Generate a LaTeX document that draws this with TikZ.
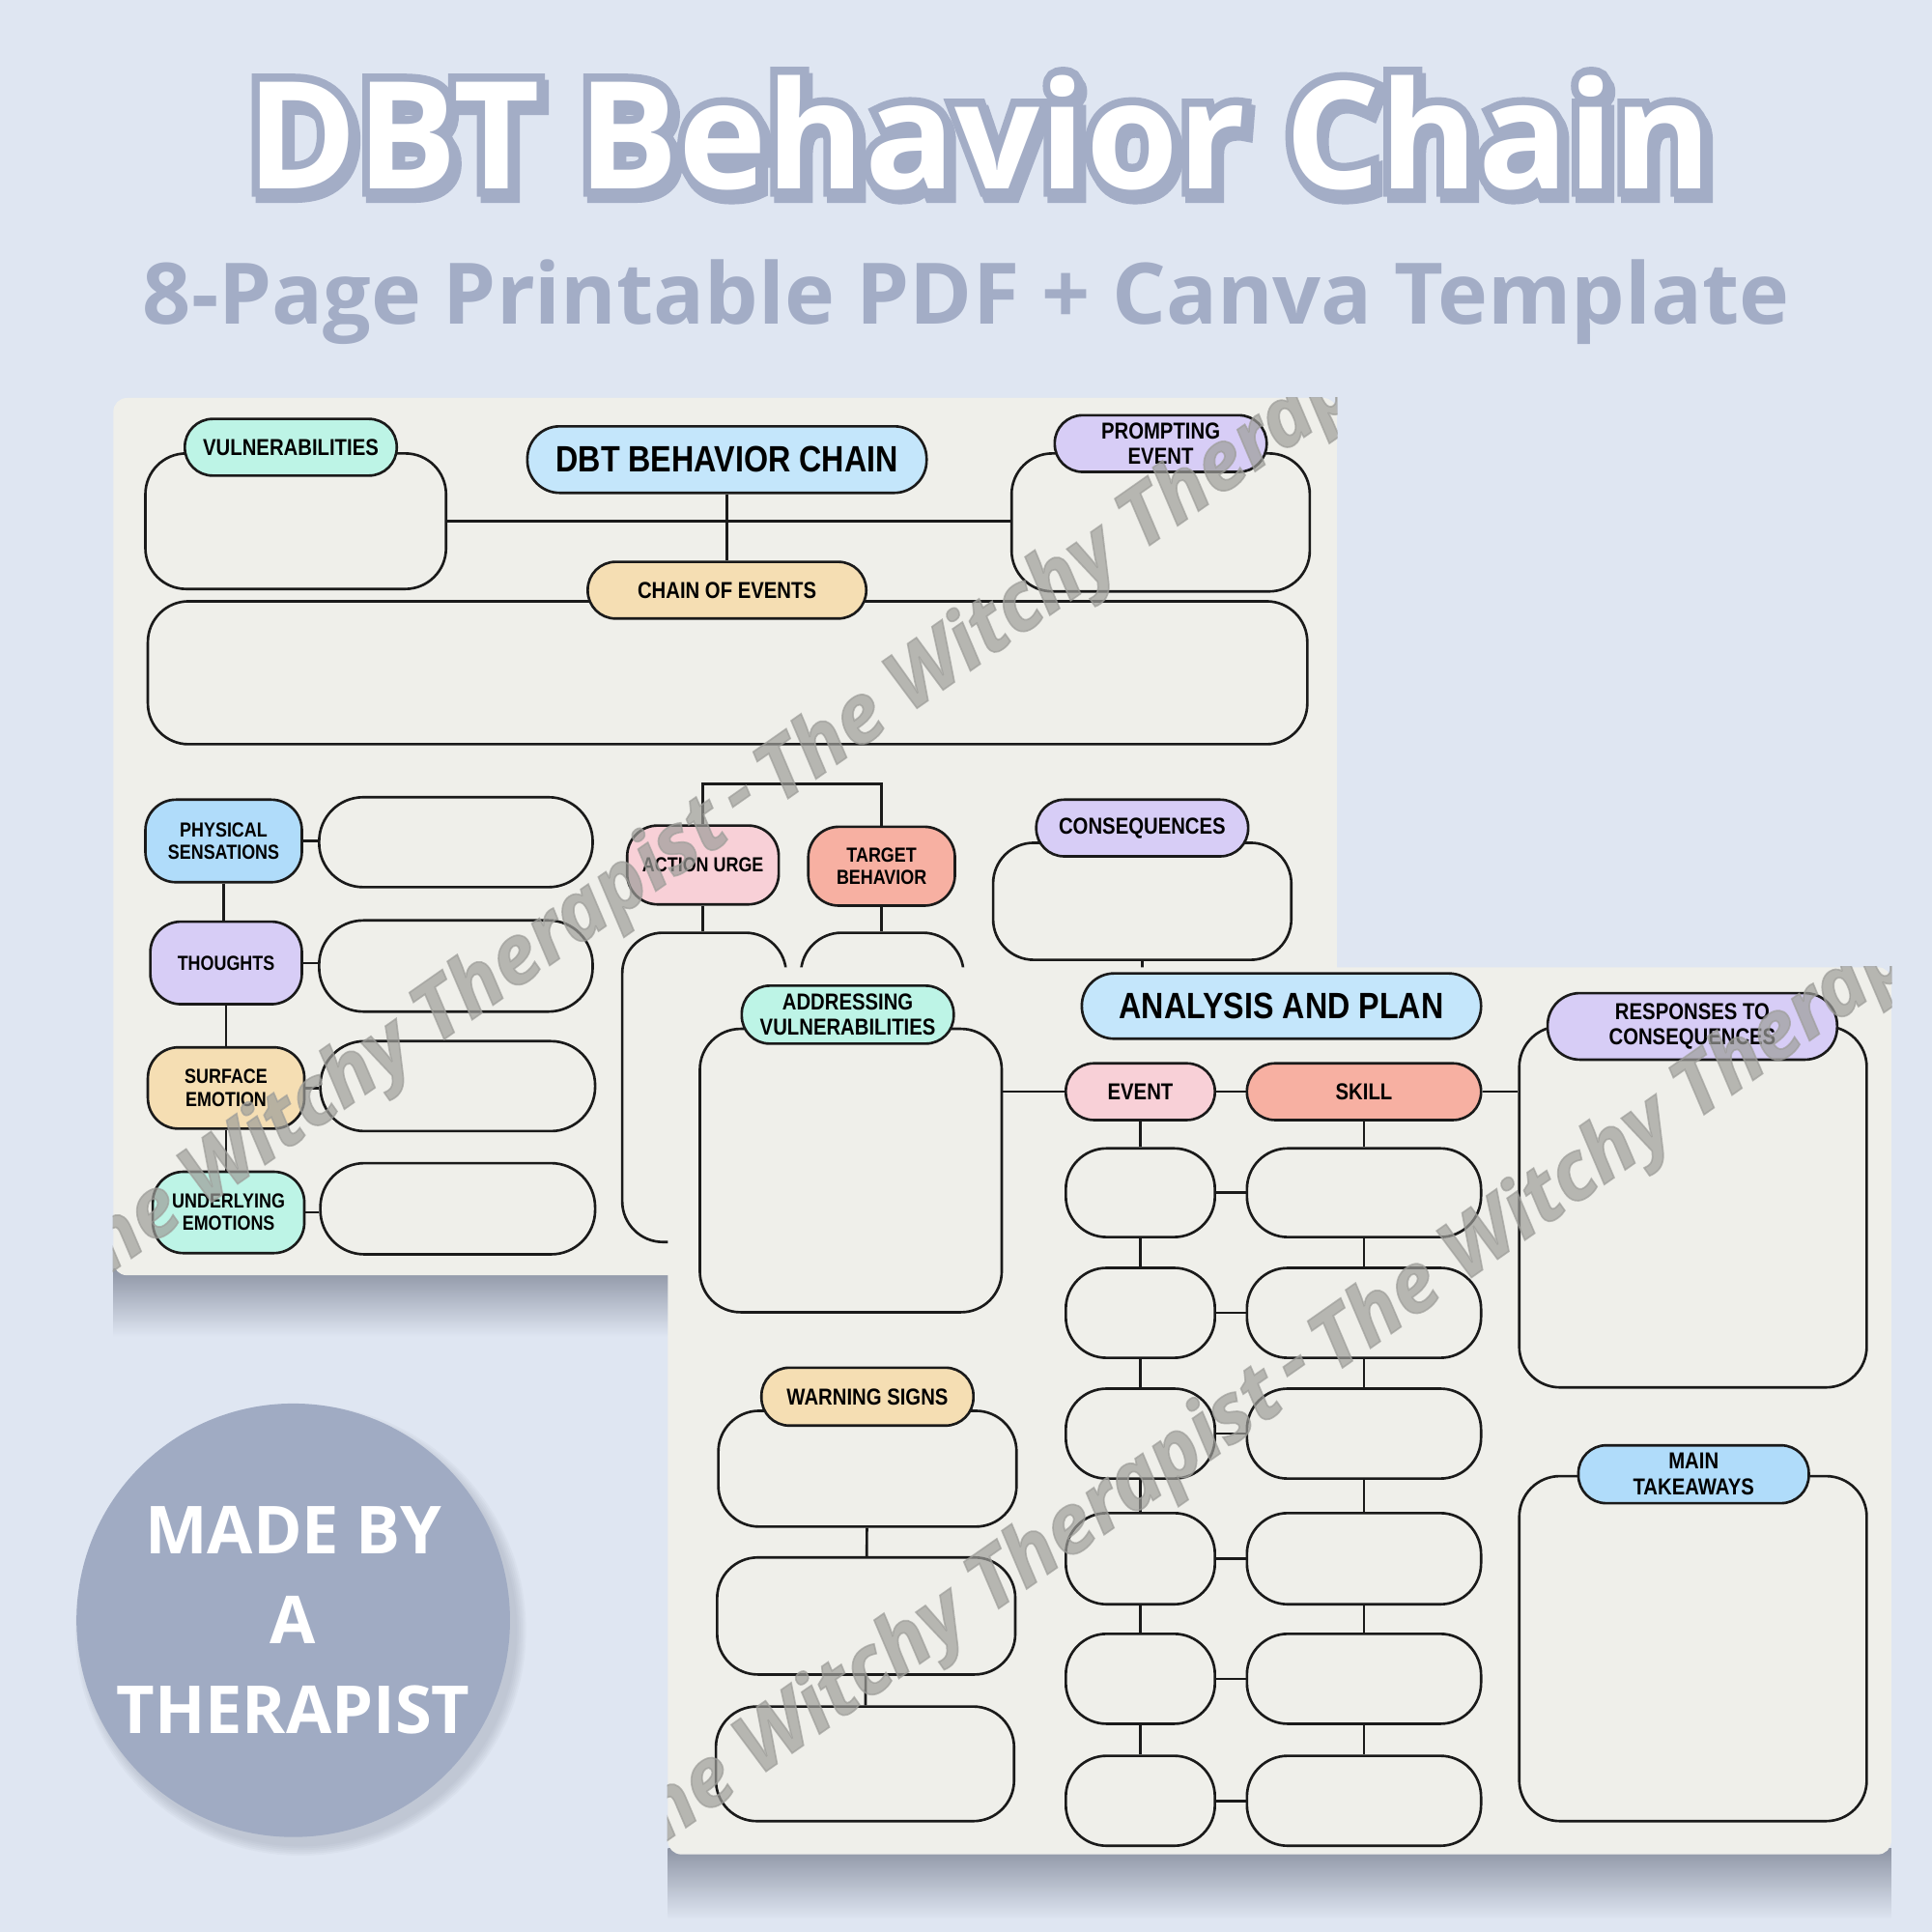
\documentclass[tikz,border=0pt]{standalone}
\usepackage{fontspec}
\usepackage{xcolor}
\usepackage{tikz}
\usetikzlibrary{positioning,calc,fit}

\newfontfamily\lblfont{Liberation Sans}[FakeStretch=0.85]
\newfontfamily\headfont{Open Sans}
\newfontfamily\rimfont{Open Sans}[BoldFeatures={FakeBold=11}]
\newfontfamily\wmfont{Open Sans}[BoldItalicFeatures={FakeBold=2}]

\definecolor{bgc}{HTML}{DFE6F2}
\definecolor{accent}{HTML}{A3ADC6}
\definecolor{badgec}{HTML}{A0ABC3}
\definecolor{paper}{HTML}{EFEFEA}
\definecolor{shadowc}{HTML}{8E95A5}
\definecolor{ink}{HTML}{1A1A1A}
\definecolor{wmgray}{HTML}{9E9E9A}
\definecolor{mint}{HTML}{BDF4E6}
\definecolor{sky}{HTML}{C4E6FB}
\definecolor{skyd}{HTML}{B0DCFA}
\definecolor{lav}{HTML}{D7CDF6}
\definecolor{tan}{HTML}{F5DEB3}
\definecolor{pink}{HTML}{F8D0D7}
\definecolor{salmon}{HTML}{F7B0A2}

\begin{document}
\begin{tikzpicture}[
  x=0.012755cm, y=-0.012755cm,
  page/.style={rectangle, rounded corners=4pt, fill=paper, inner sep=0pt},
  box/.style={rectangle, rounded corners=12pt, draw=ink, line width=0.75pt, fill=paper, inner sep=0pt},
  hdr/.style={rectangle, rounded corners=8.2pt, draw=ink, line width=0.75pt, inner sep=0pt},
  big/.style={hdr, rounded corners=9.5pt},
  tag/.style={rectangle, rounded corners=9pt, draw=ink, line width=0.75pt, inner sep=0pt},
  hdrtxt/.style={inner sep=0pt, align=center, font=\lblfont\bfseries\fontsize{6.8}{7.6}\selectfont},
  bigtxt/.style={inner sep=0pt, align=center, font=\lblfont\bfseries\fontsize{10.8}{12}\selectfont},
  tagtxt/.style={inner sep=0pt, align=center, font=\lblfont\bfseries\fontsize{6}{6.6}\selectfont},
  link/.style={draw=ink, line width=0.75pt},
  ttl/.style={anchor=base, inner sep=0pt, font=\headfont\bfseries\fontsize{44}{48}\selectfont},
  rim/.style={ttl, text=accent, font=\rimfont\bfseries\fontsize{44}{48}\selectfont},
  wm/.style={rotate=35, text=wmgray, opacity=0.7, inner sep=2pt,
    font=\wmfont\bfseries\itshape\fontsize{24}{24}\selectfont},
]
  \useasboundingbox (0,0) rectangle (1568,1568);
  \fill[bgc] (0,0) rectangle (1568,1568);

  % Heading with outline
  \node[rim] at (798,158) {DBT Behavior Chain};
  \node[rim] at (795,153) {DBT Behavior Chain};
  \node[ttl, text=white] (title) at (795,153) {DBT Behavior Chain};
  \node[anchor=base, inner sep=0pt, text=accent, font=\headfont\bfseries\fontsize{25}{30}\selectfont]
    (subtitle) at (784,263) {8-Page Printable PDF + Canva Template};

  % First sheet
  \shade[top color=shadowc, bottom color=bgc] (92,1030) rectangle (1085,1085);
  \node[page, fit={(92,323)(1085,1035)}] (upage) {};

  \node[box, fit={(118,368)(362,478)}] (vulbox) {};
  \node[hdr, fill=mint, fit={(150,340)(322,386)}, label={[hdrtxt]center:VULNERABILITIES}] (vul) {};
  \node[box, fit={(821,368)(1063,480)}] (prbox) {};
  \node[hdr, fill=lav, fit={(856,337)(1028,383)}, label={[hdrtxt]center:{PROMPTING\\EVENT}}] (prompt) {};
  \node[box, fit={(120,488)(1061,604)}] (chbox) {};
  \node[big, fill=sky, fit={(428,346)(752,400)}, label={[bigtxt]center:DBT BEHAVIOR CHAIN}] (head1) {};
  \node[hdr, fill=tan, fit={(477,456)(703,502)}, label={[hdrtxt]center:CHAIN OF EVENTS}] (chain) {};
  \draw[link] (vulbox.east) -- (vulbox.east -| prbox.west);
  \draw[link] (head1.south) -- (chain.north);

  \node[tag, fill=skyd, fit={(118,649)(245,716)}, label={[tagtxt]center:{PHYSICAL\\SENSATIONS}}] (phys) {};
  \node[tag, fill=lav, fit={(122,748)(245,815)}, label={[tagtxt]center:THOUGHTS}] (thought) {};
  \node[tag, fill=tan, fit={(120,850)(247,916)}, label={[tagtxt]center:{SURFACE\\EMOTION}}] (surf) {};
  \node[tag, fill=mint, fit={(124,951)(247,1017)}, label={[tagtxt]center:{UNDERLYING\\EMOTIONS}}] (under) {};
  \node[box, rounded corners=13pt, fit={(259,647)(481,720)}] (physbox) {};
  \node[box, rounded corners=13pt, fit={(259,747)(481,821)}] (thoughtbox) {};
  \node[box, rounded corners=13pt, fit={(260,845)(483,918)}] (surfbox) {};
  \node[box, rounded corners=13pt, fit={(260,944)(483,1018)}] (underbox) {};
  \foreach \a/\b in {phys/physbox, thought/thoughtbox, surf/surfbox, under/underbox}
    \draw[link] (\a.east) -- (\a.east -| \b.west);
  \foreach \a/\b in {phys/thought, thought/surf, surf/under}
    \draw[link] (\a.south) -- (\a.south |- \b.north);

  \node[tag, fill=pink, fit={(509,670)(632,734)}, label={[tagtxt]center:ACTION URGE}] (urge) {};
  \node[tag, fill=salmon, fit={(656,671)(775,735)}, label={[tagtxt]center:{TARGET\\BEHAVIOR}}] (target) {};
  \draw[link] (urge.north) -- ++(0,-33) -| (target.north);
  \node[box, fit={(505,757)(638,1008)}] (urgebox) {};
  \node[box, fit={(650,757)(782,1008)}] (targetbox) {};
  \draw[link] (urge.south) -- (urge.south |- urgebox.north);
  \draw[link] (target.south) -- (target.south |- targetbox.north);

  \node[box, fit={(806,684)(1048,779)}] (consbox) {};
  \node[hdr, fill=lav, fit={(841,649)(1013,695)}, label={[hdrtxt]center:CONSEQUENCES}] (cons) {};
  \coordinate (consend) at (927,800);
  \draw[link] (consbox.south) -- (consend);

  \begin{scope}
    \clip (upage.south west) rectangle (upage.north east);
    \node[wm] (dash1) at (604,652) {-};
    \node[wm, anchor=east] at (dash1.west) {The Witchy Therapist};
    \node[wm, anchor=west] at (dash1.east) {The Witchy Therapist};
  \end{scope}

  % Second sheet
  \shade[top color=shadowc, bottom color=bgc] (542,1500) rectangle (1535,1558);
  \node[page, fit={(542,785)(1535,1505)}] (lpage) {};

  \node[box, fit={(568,835)(813,1065)}] (addrbox) {};
  \node[hdr, fill=mint, fit={(602,800)(774,847)}, label={[hdrtxt]center:{ADDRESSING\\VULNERABILITIES}}] (addr) {};
  \node[big, fill=sky, fit={(878,790)(1202,843)}, label={[bigtxt]center:ANALYSIS AND PLAN}] (head2) {};
  \node[box, fit={(1233,833)(1515,1126)}] (respbox) {};
  \node[hdr, rounded corners=9.5pt, fill=lav, fit={(1256,806)(1491,860)},
    label={[hdrtxt]center:{RESPONSES TO\\CONSEQUENCES}}] (resp) {};

  \node[hdr, fill=pink, fit={(865,863)(986,909)}, label={[hdrtxt]center:EVENT}] (event) {};
  \node[hdr, fill=salmon, fit={(1012,863)(1202,909)}, label={[hdrtxt]center:SKILL}] (skill) {};
  \draw[link] (event.west) -- (event.west -| addrbox.east);
  \draw[link] (event) -- (skill);
  \draw[link] (skill.east) -- (skill.east -| respbox.west);

  \foreach \i/\t/\b in {1/932/1004, 2/1029/1102, 3/1127/1200, 4/1228/1302, 5/1326/1399, 6/1425/1498} {
    \node[box, fit={(865,\t)(986,\b)}] (ev\i) {};
    \node[box, fit={(1012,\t)(1202,\b)}] (sk\i) {};
    \draw[link] (ev\i) -- (sk\i);
  }
  \draw[link] (event) -- (ev1);
  \draw[link] (skill) -- (sk1);
  \foreach \i [count=\j from 2] in {1,...,5} {
    \draw[link] (ev\i) -- (ev\j);
    \draw[link] (sk\i) -- (sk\j);
  }

  \node[box, fit={(583,1145)(825,1239)}] (warn1) {};
  \node[hdr, fill=tan, fit={(618,1110)(790,1157)}, label={[hdrtxt]center:WARNING SIGNS}] (warn) {};
  \node[box, fit={(582,1264)(824,1359)}] (warn2) {};
  \node[box, fit={(581,1385)(823,1478)}] (warn3) {};
  \draw[link] (warn1) -- (warn2);
  \draw[link] (warn2) -- (warn3);

  \node[box, fit={(1233,1198)(1515,1478)}] (mainbox) {};
  \node[hdr, fill=skyd, fit={(1281,1173)(1468,1220)}, label={[hdrtxt]center:{MAIN\\TAKEAWAYS}}] (main) {};

  \begin{scope}
    \clip (lpage.south west) rectangle (lpage.north east);
    \node[wm] (dash2) at (1054,1114) {-};
    \node[wm, anchor=east] at (dash2.west) {The Witchy Therapist};
    \node[wm, anchor=west] at (dash2.east) {The Witchy Therapist};
  \end{scope}

  % Badge
  \coordinate (badgec) at (238,1315);
  \foreach \k in {1,...,6}
    \fill[shadowc, opacity=0.07] ($(badgec)+(6,8)$) circle [radius=174+\k*1.5];
  \node[circle, fill=badgec, minimum size=127.7pt, inner sep=0pt, text=white, align=center,
    font=\headfont\bfseries\fontsize{19.5}{26.4}\selectfont] (badge) at (badgec) {MADE BY\\A\\THERAPIST};
\end{tikzpicture}
\end{document}
